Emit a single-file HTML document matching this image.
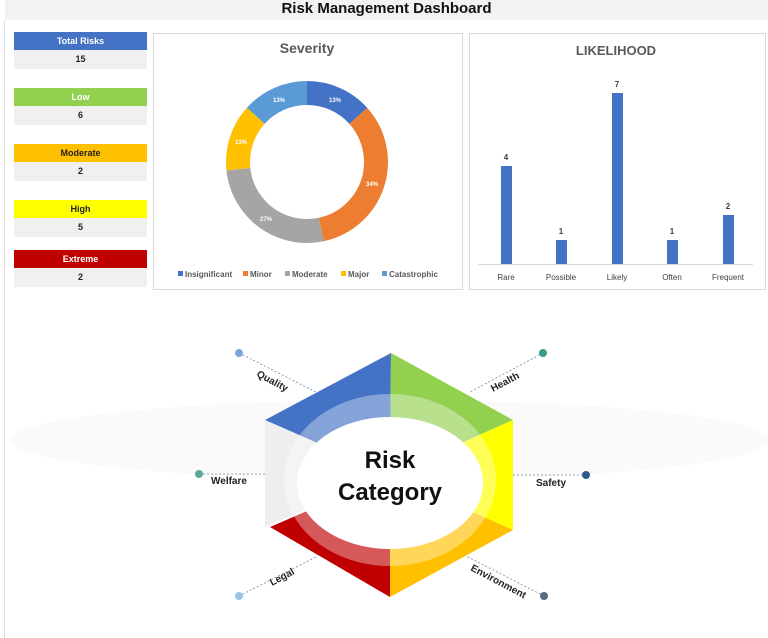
<!DOCTYPE html>
<html><head><style>
body{margin:0;width:768px;height:638px;background:#fff;font-family:"Liberation Sans",sans-serif;overflow:hidden;position:relative}
.abs{position:absolute}
.hdr{left:5px;top:0;width:763px;height:20px;background:#f2f2f2;text-align:center;font-weight:bold;font-size:15px;line-height:18px;color:#111}
.card{left:14px;width:133px;font-weight:bold;font-size:9px;text-align:center}
.card .t{height:18px;line-height:18px}
.card .v{height:19px;line-height:19px;background:#f0f0f0;color:#222}
.panel{border:1px solid #d9d9d9;background:#fff}
</style></head><body>
<div class="abs hdr">Risk Management Dashboard</div>
<div class="abs" style="left:4px;top:20px;width:1px;height:618px;background:#ddd"></div>
<div class="abs card" style="top:32px"><div class="t" style="background:#4472c4;color:#fff">Total Risks</div><div class="v">15</div></div>
<div class="abs card" style="top:88px"><div class="t" style="background:#92d050;color:#fff">Low</div><div class="v">6</div></div>
<div class="abs card" style="top:144px"><div class="t" style="background:#ffc000;color:#222">Moderate</div><div class="v">2</div></div>
<div class="abs card" style="top:200px"><div class="t" style="background:#ffff00;color:#222">High</div><div class="v">5</div></div>
<div class="abs card" style="top:250px"><div class="t" style="background:#c00000;color:#fff">Extreme</div><div class="v">2</div></div>

<div class="abs panel" style="left:153px;top:33px;width:308px;height:255px"></div>
<div class="abs panel" style="left:469px;top:33px;width:295px;height:255px"></div>

<svg class="abs" style="left:0;top:0" width="768" height="638">
<text x="307" y="53" text-anchor="middle" font-size="14" font-weight="bold" fill="#595959">Severity</text>
<g transform="rotate(-90 307 162)" fill="none" stroke-width="24">
<circle cx="307" cy="162" r="69" stroke="#4472c4" stroke-dasharray="57.8 500" stroke-dashoffset="0"/>
<circle cx="307" cy="162" r="69" stroke="#ed7d31" stroke-dasharray="144.5 500" stroke-dashoffset="-57.8"/>
<circle cx="307" cy="162" r="69" stroke="#a5a5a5" stroke-dasharray="115.6 500" stroke-dashoffset="-202.3"/>
<circle cx="307" cy="162" r="69" stroke="#ffc000" stroke-dasharray="57.8 500" stroke-dashoffset="-317.9"/>
<circle cx="307" cy="162" r="69" stroke="#5b9bd5" stroke-dasharray="57.8 500" stroke-dashoffset="-375.7"/>
</g>
<g font-size="6" font-weight="bold" fill="#fff" text-anchor="middle">
<text x="335" y="102">13%</text><text x="372" y="186">34%</text><text x="266" y="221">27%</text><text x="241" y="144">13%</text><text x="279" y="102">13%</text>
</g>
<g font-size="8" font-weight="bold" fill="#595959">
<rect x="178" y="271" width="5" height="5" fill="#4472c4"/><text x="185" y="277">Insignificant</text>
<rect x="243" y="271" width="5" height="5" fill="#ed7d31"/><text x="250" y="277">Minor</text>
<rect x="285" y="271" width="5" height="5" fill="#a5a5a5"/><text x="292" y="277">Moderate</text>
<rect x="341" y="271" width="5" height="5" fill="#ffc000"/><text x="348" y="277">Major</text>
<rect x="382" y="271" width="5" height="5" fill="#5b9bd5"/><text x="389" y="277">Catastrophic</text>
</g>
<text x="616" y="55" text-anchor="middle" font-size="13" font-weight="bold" fill="#595959">LIKELIHOOD</text>
<line x1="478" y1="264.5" x2="753" y2="264.5" stroke="#d9d9d9"/>
<g fill="#4472c4">
<rect x="501" y="166" width="11" height="98"/><rect x="556" y="240" width="11" height="24"/>
<rect x="612" y="93" width="11" height="171"/><rect x="667" y="240" width="11" height="24"/>
<rect x="723" y="215" width="11" height="49"/>
</g>
<g font-size="8" font-weight="bold" fill="#404040" text-anchor="middle">
<text x="506" y="160">4</text><text x="561" y="234">1</text><text x="617" y="87">7</text><text x="672" y="234">1</text><text x="728" y="209">2</text>
</g>
<g font-size="8" fill="#404040" text-anchor="middle">
<text x="506" y="280">Rare</text><text x="561" y="280">Possible</text><text x="617" y="280">Likely</text><text x="672" y="280">Often</text><text x="728" y="280">Frequent</text>
</g>

<ellipse cx="390" cy="440" rx="380" ry="40" fill="#fafafa"/>
<g>
<polygon points="391,353 390,475 265,420" fill="#4472c4"/>
<polygon points="391,353 513,420 390,475" fill="#92d050"/>
<polygon points="513,420 513,530 390,475" fill="#ffff00"/>
<polygon points="513,530 390,597 390,475" fill="#ffc000"/>
<polygon points="390,597 270,527 390,475" fill="#c00000"/>
<polygon points="265,527 265,420 390,475" fill="#eeeeee"/>
</g>
<ellipse cx="390" cy="480" rx="106" ry="86" fill="#fff" fill-opacity="0.35"/>
<ellipse cx="390" cy="483" rx="93" ry="66" fill="#fff"/>
<text x="390" y="468" text-anchor="middle" font-size="24" font-weight="bold" fill="#111">Risk</text>
<text x="390" y="500" text-anchor="middle" font-size="24" font-weight="bold" fill="#111">Category</text>
<g stroke="#6a8cb0" stroke-dasharray="2 2" stroke-width="0.8">
<line x1="239" y1="353" x2="318" y2="393"/><line x1="543" y1="353" x2="470" y2="392"/>
<line x1="199" y1="474" x2="265" y2="474"/><line x1="513" y1="475" x2="586" y2="475"/>
<line x1="239" y1="596" x2="318" y2="556"/><line x1="544" y1="596" x2="466" y2="556"/>
</g>
<circle cx="239" cy="353" r="4" fill="#7aa7d6"/><circle cx="543" cy="353" r="4" fill="#3a9a8a"/>
<circle cx="199" cy="474" r="4" fill="#5aaa9a"/><circle cx="586" cy="475" r="4" fill="#2f5b8a"/>
<circle cx="239" cy="596" r="4" fill="#9ac4e8"/><circle cx="544" cy="596" r="4" fill="#5a6a80"/>
<g font-size="10" font-weight="bold" fill="#222">
<text x="256" y="376" transform="rotate(28 256 376)">Quality</text>
<text x="493" y="392" transform="rotate(-28 493 392)">Health</text>
<text x="211" y="484">Welfare</text>
<text x="536" y="486">Safety</text>
<text x="272" y="586" transform="rotate(-28 272 586)">Legal</text>
<text x="470" y="570" transform="rotate(28 470 570)">Environment</text>
</g>
</svg>
</body></html>
